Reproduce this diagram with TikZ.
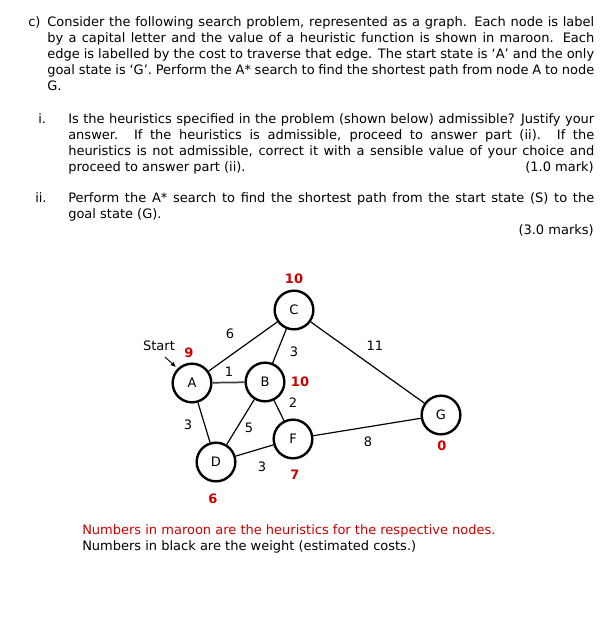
\documentclass[tikz,border=0pt]{standalone}
\usepackage{fontspec}
\setmainfont{DejaVu Sans}
\usetikzlibrary{arrows.meta}
\definecolor{hred}{RGB}{204,0,0}

\begin{document}
\begin{tikzpicture}[>=Latex,x=0.75pt,y=-0.75pt,font=\fontsize{9.75}{12}\selectfont,
  st/.style={circle,draw,line width=1.8pt,minimum size=29pt,inner sep=0pt},
  hv/.style={text=hred,font=\fontsize{9.75}{12}\selectfont\bfseries},
  wt/.style={inner sep=1pt},
  para/.style={anchor=base west,inner sep=0pt,align=justify},
  edge/.style={line width=0.9pt}]
\useasboundingbox (0,0) rectangle (615,640);
% question text
\node[anchor=base west,inner sep=0pt] (qc) at (28,26) {c)};
\node[para,text width=410.25pt] (qtxt) at (47,26) {Consider the following search problem, represented as a graph. Each node is label\linebreak
by a capital letter and the value of a heuristic function is shown in maroon. Each\linebreak
edge is labelled by the cost to traverse that edge. The start state is `A' and the only\linebreak
goal state is `G'. Perform the A* search to find the shortest path from node A to node\linebreak
G.};
\node[anchor=base west,inner sep=0pt] (qi) at (38,123) {i.};
\node[para,text width=394.5pt] (qitxt) at (68,123) {Is the heuristics specified in the problem (shown below) admissible? Justify your\linebreak
answer. If the heuristics is admissible, proceed to answer part (ii). If the\linebreak
heuristics is not admissible, correct it with a sensible value of your choice and\linebreak
proceed to answer part (ii).};
\node[anchor=base east,inner sep=0pt] (mi) at (594,171) {(1.0 mark)};
\node[anchor=base west,inner sep=0pt] (qii) at (35,202) {ii.};
\node[para,text width=394.5pt] (qiitxt) at (68,202) {Perform the A* search to find the shortest path from the start state (S) to the\linebreak
goal state (G).};
\node[anchor=base east,inner sep=0pt] (mii) at (594,234) {(3.0 marks)};
% graph
\node[st] (C) at (294,310) {C};
\node[st] (A) at (192,383) {A};
\node[st] (B) at (265,382) {B};
\node[st] (D) at (216,462) {D};
\node[st] (F) at (293,439) {F};
\node[st] (G) at (441,415) {G};
\draw[edge] (A) -- (C);
\draw[line width=1.3pt,black!75] (A) -- (B);
\draw[edge] (A) -- (D);
\draw[edge] (C) -- (B);
\draw[edge] (C) -- (G);
\draw[edge] (B) -- (F);
\draw[edge] (B) -- (D);
\draw[edge] (D) -- (F);
\draw[edge] (F) -- (G);
% heuristics
\node[hv] (hC) at (294,279) {10};
\node[hv] (hA) at (189,353) {9};
\node[hv] (hB) at (300,382) {10};
\node[hv] (hF) at (295,475) {7};
\node[hv] (hD) at (213,499) {6};
\node[hv] (hG) at (442,446) {0};
% weights
\node[wt] (wAC) at (230,334) {6};
\node[wt] (wAB) at (229,372) {1};
\node[wt] (wCB) at (294,352) {3};
\node[wt] (wBF) at (293,403) {2};
\node[wt] (wAD) at (188,425) {3};
\node[wt] (wBD) at (249,428) {5};
\node[wt] (wDF) at (262,467) {3};
\node[wt] (wCG) at (375,346) {11};
\node[wt] (wFG) at (368,442) {8};
% start marker
\node (start) at (159,346) {Start};
\coordinate (s0) at (165,357);
\draw[-{Latex[length=4pt,width=3.5pt]},line width=0.7pt,shorten >=1.5pt] (s0) -- (A.135);
% legend
\node[anchor=base west,inner sep=0pt,text=hred] (n1) at (82,534) {Numbers in maroon are the heuristics for the respective nodes.};
\node[anchor=base west,inner sep=0pt] (n2) at (82,550) {Numbers in black are the weight (estimated costs.)};
\end{tikzpicture}
\end{document}
